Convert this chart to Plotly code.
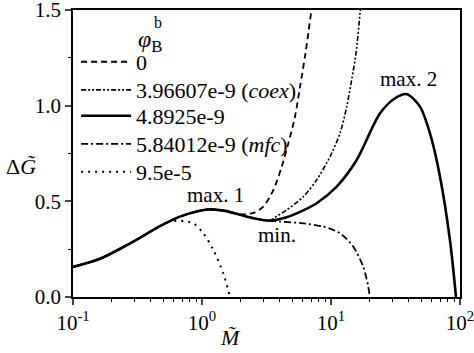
import plotly.graph_objects as go

# ---- data ----
M_b0 = [0.1, 0.1618, 0.2767, 0.472, 0.6745, 0.964, 1.153, 1.514, 1.972, 2.512, 2.985, 3.573, 4.150, 4.667, 5.260, 5.754, 6.281, 6.668, 6.998, 7.244]
G_b0 = [0.157, 0.20, 0.28, 0.37, 0.42, 0.451, 0.458, 0.45, 0.432, 0.44, 0.472, 0.559, 0.681, 0.803, 0.943, 1.099, 1.256, 1.378, 1.483, 1.55]

M_coex = [0.1, 0.1618, 0.2767, 0.472, 0.6745, 0.964, 1.153, 1.514, 1.972, 2.512, 3.365, 3.573, 4.529, 6.095, 7.745, 9.817, 11.75, 13.24, 14.45, 15.63, 16.79, 17.18]
G_coex = [0.157, 0.20, 0.28, 0.37, 0.42, 0.451, 0.458, 0.45, 0.43, 0.412, 0.399, 0.411, 0.455, 0.524, 0.612, 0.733, 0.856, 0.995, 1.134, 1.274, 1.483, 1.55]

M_sol = [0.1, 0.1618, 0.2767, 0.472, 0.6745, 0.964, 1.153, 1.514, 1.972, 2.512, 3.365, 4.467, 5.420, 7.745, 11.07, 15.81, 23.99, 31.62, 38.82, 48.98, 58.48, 69.98, 83.56, 93.11]
G_sol = [0.157, 0.20, 0.28, 0.37, 0.42, 0.451, 0.458, 0.45, 0.43, 0.412, 0.399, 0.415, 0.437, 0.49, 0.577, 0.716, 0.96, 1.04, 1.06, 0.995, 0.856, 0.629, 0.298, 0.0]

M_mfc = [0.1, 0.1618, 0.2767, 0.472, 0.6745, 0.964, 1.153, 1.514, 1.972, 2.512, 3.365, 4.027, 6.095, 8.710, 11.75, 14.89, 17.78, 19.50, 19.95]
G_mfc = [0.157, 0.20, 0.28, 0.37, 0.42, 0.451, 0.458, 0.45, 0.43, 0.412, 0.399, 0.394, 0.385, 0.368, 0.333, 0.263, 0.158, 0.05, 0.0]

M_dot = [0.1, 0.1618, 0.2767, 0.472, 0.532, 0.6745, 0.857, 1.023, 1.225, 1.462, 1.648]
G_dot = [0.157, 0.20, 0.28, 0.37, 0.39, 0.399, 0.385, 0.333, 0.246, 0.124, 0.0]

labels = ["0", "3.96607e-9 (<i>coex</i>)", "4.8925e-9", "5.84012e-9 (<i>mfc</i>)", "9.5e-5"]
x_tickvals = [0.1, 1, 10, 100]
x_ticktext = ["10<sup>-1</sup>", "10<sup>0</sup>", "10<sup>1</sup>", "10<sup>2</sup>"]
x_minor = [0.2, 0.3, 0.4, 0.5, 0.6, 0.7, 0.8, 0.9, 2, 3, 4, 5, 6, 7, 8, 9, 20, 30, 40, 50, 60, 70, 80, 90]

FONT = "Liberation Serif, Times New Roman, serif"

fig = go.Figure()
series = [
    (M_b0, G_b0, labels[0], dict(width=1.8, dash="6px,4px")),
    (M_coex, G_coex, labels[1], dict(width=1.6, dash="5px,2px,2px,2px,2px,2px")),
    (M_sol, G_sol, labels[2], dict(width=2.6)),
    (M_mfc, G_mfc, labels[3], dict(width=1.8, dash="7px,3px,2px,3px")),
    (M_dot, G_dot, labels[4], dict(width=2, dash="2px,5px")),
]
legend_ids = ["legend", "legend2", "legend3", "legend4", "legend5"]
legend_y = [0.819, 0.721, 0.631, 0.533, 0.436]
for (xs, ys, name, ln), lid in zip(series, legend_ids):
    fig.add_trace(go.Scatter(x=xs, y=ys, mode="lines", name=name, legend=lid,
                             line=dict(color="black", shape="spline", smoothing=0.8, **ln)))

legend_style = dict(x=0.008, xanchor="left", yanchor="middle",
                    bgcolor="rgba(0,0,0,0)", itemwidth=50,
                    font=dict(family=FONT, size=22))
layout_legends = {lid: dict(y=ly, **legend_style) for lid, ly in zip(legend_ids, legend_y)}

fig.update_layout(
    width=474, height=353,
    margin=dict(l=73, r=14, t=10, b=56),
    paper_bgcolor="white", plot_bgcolor="white",
    font=dict(family=FONT, size=21, color="black"),
    showlegend=True,
    **layout_legends,
)
fig.update_xaxes(type="log", range=[-1, 2], tickvals=x_tickvals, ticktext=x_ticktext,
                 automargin=False, ticklabeloverflow="allow",
                 ticks="outside", ticklen=6, tickwidth=1.5, showgrid=False, zeroline=False,
                 showline=True, linewidth=1.5, linecolor="black", mirror=True,
                 minor=dict(tickvals=x_minor, ticks="outside", ticklen=3.5, tickwidth=1.2, tickcolor="black"),
                 tickfont=dict(family=FONT, size=21))
fig.update_yaxes(range=[0, 1.5], tickvals=[0, 0.5, 1.0, 1.5], tickformat=".1f",
                 automargin=False, ticklabeloverflow="allow",
                 ticks="outside", ticklen=6, tickwidth=1.5, showgrid=False, zeroline=False,
                 showline=True, linewidth=1.5, linecolor="black", mirror=True,
                 minor=dict(dtick=0.25, ticks="outside", ticklen=3.5, tickwidth=1.2, tickcolor="black"),
                 tickfont=dict(family=FONT, size=21))

ann = [
    dict(text="Δ<i>G̃</i>", x=-0.135, y=0.453, xanchor="center", yanchor="middle", font=dict(size=22)),
    dict(text="<i>M̃</i>", x=0.406, y=-0.14, xanchor="center", yanchor="middle", font=dict(size=22)),
    dict(text="<i>φ</i><sub>B</sub>", x=0.163, y=0.893, xanchor="left", yanchor="middle", font=dict(size=24)),
    dict(text="b", x=0.205, y=0.958, xanchor="left", yanchor="middle", font=dict(size=16)),
    dict(text="max. 1", x=0.367, y=0.355, xanchor="center", yanchor="middle", font=dict(size=21)),
    dict(text="min.", x=0.528, y=0.215, xanchor="center", yanchor="middle", font=dict(size=21)),
    dict(text="max. 2", x=0.866, y=0.758, xanchor="center", yanchor="middle", font=dict(size=21)),
]
for a in ann:
    fig.add_annotation(xref="paper", yref="paper", showarrow=False, **a)

fig.write_html("out.html")
